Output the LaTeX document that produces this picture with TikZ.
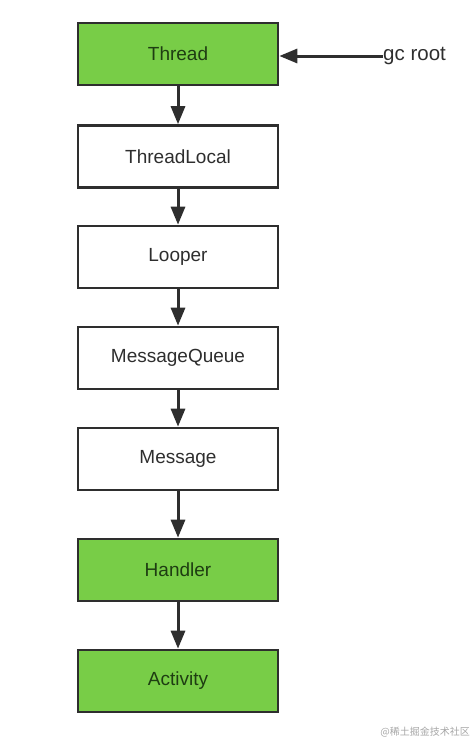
\documentclass[tikz,border=0pt]{standalone}
\usepackage{fontspec}
\setmainfont{Liberation Sans}
\newfontfamily\cjk{Noto Sans CJK SC}
\usetikzlibrary{arrows.meta}
\definecolor{gfill}{HTML}{78CD47}
\definecolor{gtext}{HTML}{1E3D12}
\definecolor{ink}{HTML}{2E2E2E}
\tikzset{
  box/.style={draw=ink, line width=2.6pt, minimum width=200pt, minimum height=62pt, inner sep=0pt, font=\fontsize{19}{21}\selectfont, text=ink, fill=white},
  gbox/.style={box, fill=gfill, text=gtext},
  link/.style={draw=ink, line width=3pt, -{Triangle[length=18pt,width=14pt]}}
}
\begin{document}
\begin{tikzpicture}[x=1pt,y=-1pt]
\useasboundingbox (0,0) rectangle (474,742);
\node[gbox] (thread) at (178,54) {Thread};
\node[box] (tl) at (178,156.5) {ThreadLocal};
\node[box] (looper) at (178,257) {Looper};
\node[box] (mq) at (178,358) {MessageQueue};
\node[box] (msg) at (178,459) {Message};
\node[gbox] (handler) at (178,570) {Handler};
\node[gbox] (act) at (178,681) {Activity};
\node[anchor=west, font=\fontsize{20.5}{22}\selectfont, text=ink, inner sep=0pt] (gc) at (383,56) {gc root};
\draw[link] (gc.west) -- (thread.east |- gc.west);
\draw[link] (thread) -- (tl);
\draw[link] (tl) -- (looper);
\draw[link] (looper) -- (mq);
\draw[link] (mq) -- (msg);
\draw[link] (msg) -- (handler);
\draw[link] (handler) -- (act);
\node[anchor=east, font=\cjk\fontsize{10}{11}\selectfont, text=black!35, inner sep=0pt] (wm) at (470,732) {@稀土掘金技术社区};
\end{tikzpicture}
\end{document}
